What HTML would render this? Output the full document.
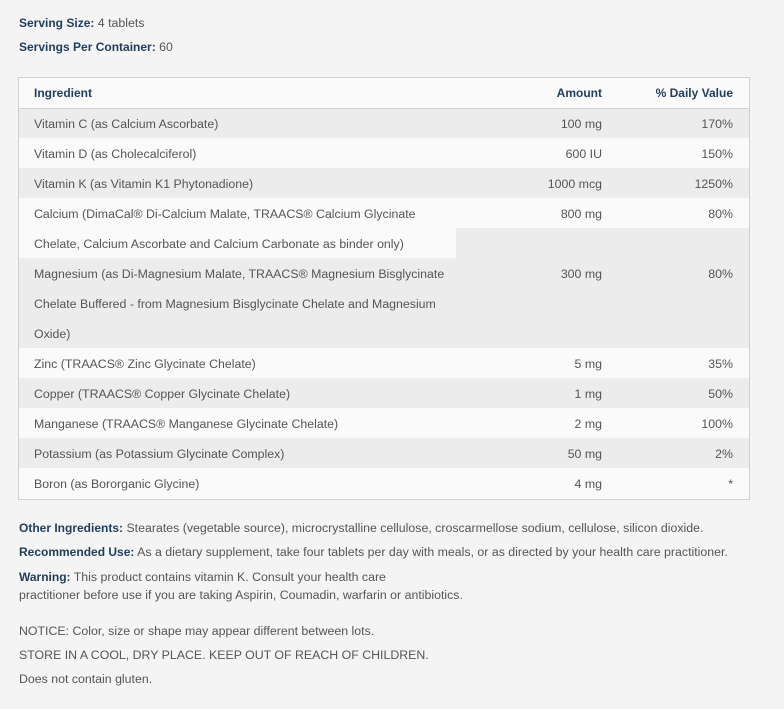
<!DOCTYPE html>
<html><head><meta charset="utf-8"><style>
body{margin:0;width:784px;height:709px;background:#f4f4f4;font-family:"Liberation Sans",Arial,sans-serif;font-size:12.35px;color:#555;position:relative;overflow:hidden}
.a{position:absolute;white-space:nowrap;line-height:14px}
b{color:#1f3d5c;font-weight:bold;font-size:12px}
.r{position:absolute;left:19px;width:730px}
.w{background:#fafafa}.g{background:#ececec}
.am{position:absolute;right:182px;white-space:nowrap;line-height:14px}
.dv{position:absolute;right:51px;white-space:nowrap;line-height:14px}
</style></head><body>
<div class="a" style="left:19px;top:16px"><b>Serving Size:</b> 4 tablets</div>
<div class="a" style="left:19px;top:40px"><b>Servings Per Container:</b> 60</div>
<div style="position:absolute;left:18px;top:77px;width:730px;height:421px;border:1px solid #d0d0d0;background:#fafafa"></div>
<div class="r w" style="top:78px;height:30px;border-bottom:1px solid #d0d0d0"></div>
<div class="r g" style="top:109px;height:29px"></div>
<div class="r g" style="top:168px;height:30px"></div>
<div style="position:absolute;left:456px;top:228px;width:293px;height:30px;background:#ececec"></div>
<div class="r g" style="top:258px;height:90px"></div>
<div class="r g" style="top:378px;height:30px"></div>
<div class="r g" style="top:438px;height:30px"></div>
<div class="a" style="left:34px;top:86px"><b>Ingredient</b></div>
<div class="am" style="top:86px"><b>Amount</b></div>
<div class="dv" style="top:86px"><b>% Daily Value</b></div>
<div class="a" style="left:34px;top:117px">Vitamin C (as Calcium Ascorbate)</div><div class="am" style="top:117px">100 mg</div><div class="dv" style="top:117px">170%</div>
<div class="a" style="left:34px;top:147px">Vitamin D (as Cholecalciferol)</div><div class="am" style="top:147px">600 IU</div><div class="dv" style="top:147px">150%</div>
<div class="a" style="left:34px;top:177px">Vitamin K (as Vitamin K1 Phytonadione)</div><div class="am" style="top:177px">1000 mcg</div><div class="dv" style="top:177px">1250%</div>
<div class="a" style="left:34px;top:207px">Calcium (DimaCal® Di-Calcium Malate, TRAACS® Calcium Glycinate</div><div class="am" style="top:207px">800 mg</div><div class="dv" style="top:207px">80%</div>
<div class="a" style="left:34px;top:237px">Chelate, Calcium Ascorbate and Calcium Carbonate as binder only)</div>
<div class="a" style="left:34px;top:267px">Magnesium (as Di-Magnesium Malate, TRAACS® Magnesium Bisglycinate</div><div class="am" style="top:267px">300 mg</div><div class="dv" style="top:267px">80%</div>
<div class="a" style="left:34px;top:297px">Chelate Buffered - from Magnesium Bisglycinate Chelate and Magnesium</div>
<div class="a" style="left:34px;top:327px">Oxide)</div>
<div class="a" style="left:34px;top:357px">Zinc (TRAACS® Zinc Glycinate Chelate)</div><div class="am" style="top:357px">5 mg</div><div class="dv" style="top:357px">35%</div>
<div class="a" style="left:34px;top:387px">Copper (TRAACS® Copper Glycinate Chelate)</div><div class="am" style="top:387px">1 mg</div><div class="dv" style="top:387px">50%</div>
<div class="a" style="left:34px;top:417px">Manganese (TRAACS® Manganese Glycinate Chelate)</div><div class="am" style="top:417px">2 mg</div><div class="dv" style="top:417px">100%</div>
<div class="a" style="left:34px;top:447px">Potassium (as Potassium Glycinate Complex)</div><div class="am" style="top:447px">50 mg</div><div class="dv" style="top:447px">2%</div>
<div class="a" style="left:34px;top:477px">Boron (as Bororganic Glycine)</div><div class="am" style="top:477px">4 mg</div><div class="dv" style="top:477px">*</div>
<div class="a" style="left:19px;top:521px"><b>Other Ingredients:</b> Stearates (vegetable source), microcrystalline cellulose, croscarmellose sodium, cellulose, silicon dioxide.</div>
<div class="a" style="left:19px;top:545px"><b>Recommended Use:</b> As a dietary supplement, take four tablets per day with meals, or as directed by your health care practitioner.</div>
<div class="a" style="left:19px;top:570px"><b>Warning:</b> This product contains vitamin K. Consult your health care</div>
<div class="a" style="left:19px;top:588px">practitioner before use if you are taking Aspirin, Coumadin, warfarin or antibiotics.</div>
<div class="a" style="left:19px;top:624px">NOTICE: Color, size or shape may appear different between lots.</div>
<div class="a" style="left:19px;top:648px">STORE IN A COOL, DRY PLACE. KEEP OUT OF REACH OF CHILDREN.</div>
<div class="a" style="left:19px;top:672px">Does not contain gluten.</div>
</body></html>
